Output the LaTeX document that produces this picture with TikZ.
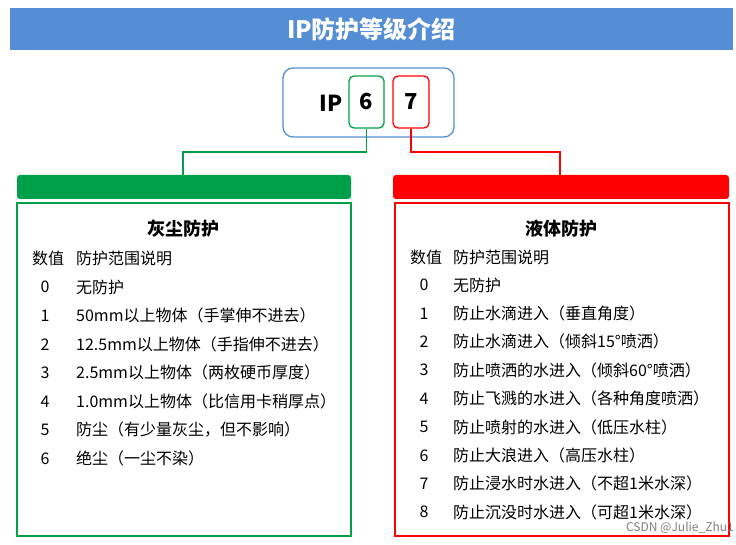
\documentclass[tikz,border=0pt]{standalone}
\usepackage{fontspec}
\setmainfont{Noto Sans CJK SC}
\definecolor{tb}{HTML}{558ED5}
\definecolor{gr}{HTML}{00A04A}
\definecolor{rd}{HTML}{FF0000}
\begin{document}
\begin{tikzpicture}[x=1pt,y=-1pt,
 txt/.style={anchor=west,inner sep=0,font=\fontsize{16}{18}\selectfont},
 num/.style={inner sep=0,font=\fontsize{16}{18}\selectfont},
 hd/.style={inner sep=0,font=\fontsize{18}{20}\selectfont\bfseries}]
\useasboundingbox (0,0) rectangle (736,545);
\fill[white] (0,0) rectangle (736,545);
\node[fill=tb,minimum width=723,minimum height=42,inner sep=0,text=white,font=\fontsize{24}{26}\selectfont\bfseries] (title) at (371.5,29) {IP防护等级介绍};
\node[draw=tb,line width=1.3pt,rounded corners=10,minimum width=171,minimum height=69,inner sep=0] (ip) at (368.5,102.5) {};
\node[inner sep=0,font=\fontsize{22}{24}\selectfont\bfseries] (iptxt) at (331,103) {IP};
\node[draw=gr,line width=1.3pt,rounded corners=5,minimum width=35,minimum height=52,inner sep=0,font=\fontsize{22}{24}\selectfont\bfseries] (six) at (366.5,102) {6};
\node[draw=rd,line width=1.3pt,rounded corners=5,minimum width=36,minimum height=52,inner sep=0,font=\fontsize{22}{24}\selectfont\bfseries] (seven) at (411,102) {7};
\node[fill=gr,rounded corners=3,minimum width=334,minimum height=24,inner sep=0] (gbar) at (184,187) {};
\node[fill=rd,rounded corners=3,minimum width=336,minimum height=24,inner sep=0] (rbar) at (561,187) {};
\node[draw=gr,line width=1.3pt,minimum width=334,minimum height=333,inner sep=0] (gbox) at (184,369.5) {};
\node[draw=rd,line width=1.3pt,minimum width=334,minimum height=333,inner sep=0] (rbox) at (562,369.5) {};
\draw[gr,line width=1.3pt] (six.south) |- (183,152) -- (gbar.north -| 183,0);
\draw[rd,line width=1.3pt] (seven.south) |- (560,152) -- (rbar.north -| 560,0);
\node[hd] (gt) at (183,229) {灰尘防护};
\node[hd] (rt) at (561,229) {液体防护};
\node[txt] (gh1) at (32,258) {数值};
\node[txt] (gh2) at (76,258) {防护范围说明};
\foreach \i/\t in {0/无防护,1/50mm以上物体（手掌伸不进去）,2/12.5mm以上物体（手指伸不进去）,3/2.5mm以上物体（两枚硬币厚度）,4/1.0mm以上物体（比信用卡稍厚点）,5/防尘（有少量灰尘，但不影响）,6/绝尘（一尘不染）}{
 \node[num] (gn\i) at (45,{287+28.6*\i}) {\i};
 \node[txt] (gl\i) at (76,{287+28.6*\i}) {\t};}
\node[txt] (rh1) at (410,257) {数值};
\node[txt] (rh2) at (453,257) {防护范围说明};
\foreach \i/\t in {0/无防护,1/防止水滴进入（垂直角度）,2/防止水滴进入（倾斜15°喷洒）,3/防止喷洒的水进入（倾斜60°喷洒）,4/防止飞溅的水进入（各种角度喷洒）,5/防止喷射的水进入（低压水柱）,6/防止大浪进入（高压水柱）,7/防止浸水时水进入（不超1米水深）,8/防止沉没时水进入（可超1米水深）}{
 \node[num] (rn\i) at (424,{285+28.4*\i}) {\i};
 \node[txt] (rl\i) at (453,{285+28.4*\i}) {\t};}
\node[anchor=east,inner sep=0,text=gray,font=\fontsize{12}{13}\selectfont] (wm) at (734,528) {CSDN @Julie\_Zhu1};
\end{tikzpicture}
\end{document}
